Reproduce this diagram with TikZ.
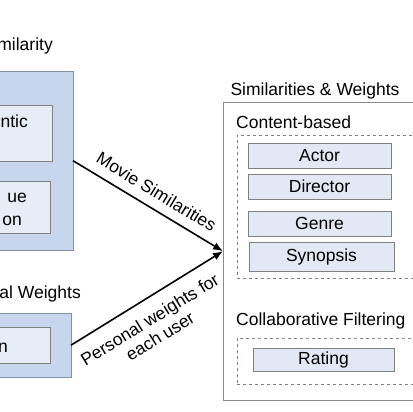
\documentclass[tikz,border=0pt]{standalone}
\usepackage{fontspec}
\setmainfont{Liberation Sans}
\usetikzlibrary{positioning,arrows.meta}

\definecolor{outerblue}{HTML}{C6D6EC}
\definecolor{outerline}{HTML}{8090A8}
\definecolor{innerblue}{HTML}{E7EDF7}
\definecolor{fieldblue}{HTML}{E2E9F5}

\begin{document}
\begin{tikzpicture}[x=1pt,y=-1pt,font=\fontsize{17.5}{20}\selectfont,
    lbl/.style={inner sep=0pt},
    group/.style={draw=outerline,fill=outerblue,inner sep=0pt},
    method/.style={draw=gray,fill=innerblue,inner sep=0pt},
    frame/.style={draw=gray!90,fill=white,inner sep=0pt},
    dashbox/.style={draw=gray,dashed,inner sep=0pt},
    field/.style={draw=gray,fill=fieldblue,inner sep=0pt,
      minimum width=143pt,minimum height=25pt},
    flow/.style={line width=1.6pt,-{Latex[length=10pt,width=8pt]}}]
\useasboundingbox (0,0) rectangle (412,412);

% left: similarity side (cut off)
\node[lbl,anchor=base east] (simtitle) at (53,51) {milarity};
\node[group,anchor=north east,minimum width=130pt,minimum height=179pt]
     (simbox) at (73,71) {};
\node[method,anchor=north east,minimum width=110pt,minimum height=56pt]
     (semantic) at (52,105) {};
\node[lbl,anchor=base east] (semtext) at (28,127) {ntic};
\node[method,anchor=north east,minimum width=110pt,minimum height=52pt]
     (unique) at (50,181) {};
\node[lbl,anchor=base east] (uniqtexta) at (27,202) {ue};
\node[lbl,anchor=base east] (uniqtextb) at (22,225) {on};

% left: personal weights side (cut off)
\node[lbl,anchor=base east] (wtitle) at (81,298) {nal Weights};
\node[group,anchor=north east,minimum width=130pt,minimum height=64pt]
     (wbox) at (71,313) {};
\node[method,anchor=north east,minimum width=110pt,minimum height=36pt]
     (wmethod) at (50,327) {};
\node[lbl,anchor=base east] (wtext) at (8,352) {n};

% right: similarities and weights
\node[lbl,anchor=base] (swtitle) at (315,95) {Similarities \& Weights};
\node[frame,anchor=north west,minimum width=220pt,minimum height=298pt]
     (swbox) at (223,102) {};
\node[lbl,anchor=base west] (cbtitle) at (236,128) {Content-based};
\node[dashbox,anchor=north west,minimum width=190pt,minimum height=143pt]
     (cbbox) at (237,135) {};
\node[field] (actor) at (319.5,155.5) {Actor};
\node[field] (director) at (319.5,186.5) {Director};
\node[field] (genre) at (319.5,223.5) {Genre};
\node[field,minimum width=145pt,minimum height=29pt]
     (synopsis) at (321.5,256.5) {Synopsis};
\node[lbl,anchor=base west] (cftitle) at (236,325) {Collaborative Filtering};
\node[dashbox,anchor=north west,minimum width=190pt,minimum height=46pt]
     (cfbox) at (237,338) {};
\node[field,minimum width=141pt,minimum height=23pt]
     (rating) at (323.5,359.5) {Rating};

% connectors
\draw[flow] (simbox.east) -- node[sloped,above=6pt] (simlabel)
     {Movie Similarities} (swbox.west);
\draw[flow] (wbox.east) -- node[pos=0.45,sloped,below=9pt,align=center,
     font=\fontsize{17.5}{19.5}\selectfont] (wlabel)
     {Personal weights for\\each user} (swbox.west);
\end{tikzpicture}
\end{document}
